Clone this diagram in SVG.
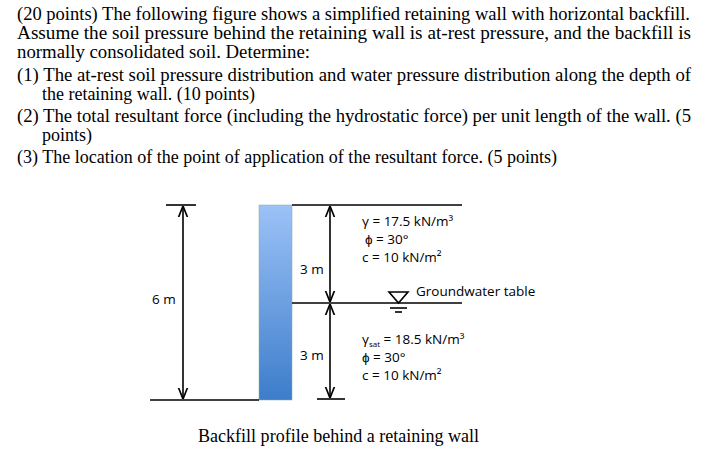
<svg xmlns="http://www.w3.org/2000/svg" width="702" height="455" viewBox="0 0 702 455">
<style>
.t{font-family:"Liberation Serif",serif;font-size:18px;fill:#000}
.s{font-family:"Open Sans","Liberation Sans",sans-serif;font-size:13.5px;fill:#000}
.l{stroke:#000;stroke-width:1.6;fill:none}
</style>
<defs>
<linearGradient id="g" x1="0" y1="0" x2="0" y2="1"><stop offset="0" stop-color="#9cc2f7"/><stop offset="1" stop-color="#3d7dca"/></linearGradient>
<marker id="a" viewBox="0 0 10 10" refX="10" refY="5" markerWidth="7" markerHeight="7" orient="auto-start-reverse"><path d="M0,1 L10,5 L0,9" fill="none" stroke="#000" stroke-width="1.5"/></marker>
</defs>
<rect width="702" height="455" fill="#fff"/>
<g id="question">
<text class="t" x="17" y="20" textLength="673" lengthAdjust="spacingAndGlyphs">(20 points) The following figure shows a simplified retaining wall with horizontal backfill.</text>
<text class="t" x="17" y="39" textLength="674" lengthAdjust="spacingAndGlyphs">Assume the soil pressure behind the retaining wall is at-rest pressure, and the backfill is</text>
<text class="t" x="17" y="58" textLength="293" lengthAdjust="spacingAndGlyphs">normally consolidated soil. Determine:</text>
<text class="t" x="17" y="81" textLength="674" lengthAdjust="spacingAndGlyphs">(1) The at-rest soil pressure distribution and water pressure distribution along the depth of</text>
<text class="t" x="42" y="100" textLength="213" lengthAdjust="spacingAndGlyphs">the retaining wall. (10 points)</text>
<text class="t" x="17" y="122" textLength="674" lengthAdjust="spacingAndGlyphs">(2) The total resultant force (including the hydrostatic force) per unit length of the wall. (5</text>
<text class="t" x="42" y="141">points)</text>
<text class="t" x="17" y="163" textLength="540" lengthAdjust="spacingAndGlyphs">(3) The location of the point of application of the resultant force. (5 points)</text>
</g>
<g id="wall"><rect x="259" y="205" width="33" height="195" fill="url(#g)" stroke="#8aa" stroke-width="0.5"/></g>
<g id="connectors">
<line class="l" x1="166" y1="205" x2="196" y2="205"/>
<line class="l" x1="150" y1="400" x2="259" y2="400"/>
<line class="l" x1="292" y1="205" x2="462" y2="205"/>
<line class="l" x1="292" y1="303" x2="462" y2="303"/>
<line class="l" x1="317" y1="399" x2="345" y2="399"/>
<line class="l" x1="183" y1="206" x2="183" y2="399" marker-start="url(#a)" marker-end="url(#a)"/>
<line class="l" x1="330" y1="206" x2="330" y2="302" marker-start="url(#a)" marker-end="url(#a)"/>
<line class="l" x1="330" y1="304" x2="330" y2="398" marker-start="url(#a)" marker-end="url(#a)"/>
</g>
<g id="gwt">
<path d="M389,292 L408,292 L398.5,303 Z" fill="none" stroke="#000" stroke-width="1.6"/>
<line class="l" x1="390" y1="308" x2="407" y2="308"/>
<line class="l" x1="395" y1="312" x2="402" y2="312"/>
<text class="s" x="416" y="296">Groundwater table</text>
</g>
<g id="labels">
<text class="s" x="152" y="304">6 m</text>
<text class="s" x="300" y="274">3 m</text>
<text class="s" x="300" y="360">3 m</text>
<text class="s" x="362" y="226">γ = 17.5 kN/m³</text>
<text class="s" x="365" y="244">ϕ = 30°</text>
<text class="s" x="362" y="262">c = 10 kN/m²</text>
<text class="s" x="362" y="344">γ<tspan font-size="8" dy="3">sat</tspan><tspan dy="-3"> = 18.5 kN/m³</tspan></text>
<text class="s" x="362" y="362">ϕ = 30°</text>
<text class="s" x="362" y="380">c = 10 kN/m²</text>
</g>
<text class="t" x="198" y="442" textLength="281" lengthAdjust="spacingAndGlyphs">Backfill profile behind a retaining wall</text>
</svg>
